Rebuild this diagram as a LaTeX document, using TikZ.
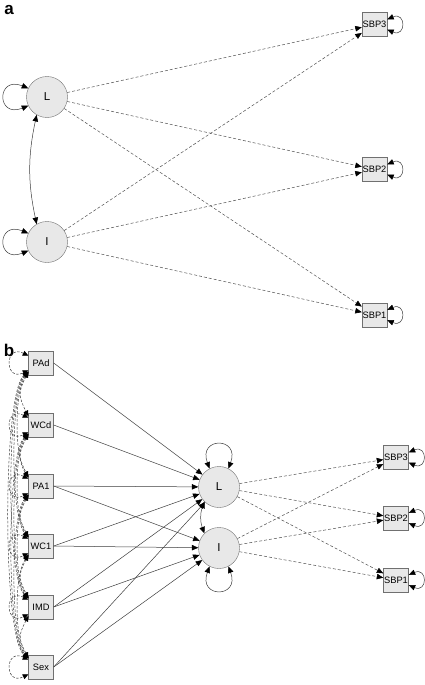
\documentclass[tikz,border=0pt]{standalone}
\usepackage{fontspec}
\setmainfont{Liberation Sans}
\usetikzlibrary{arrows.meta,calc}
\definecolor{boxgrey}{HTML}{E8E8E8}
\definecolor{edgegrey}{HTML}{707070}
\definecolor{linegrey}{HTML}{3C3C3C}
\definecolor{dashgrey}{HTML}{505050}

\begin{document}
\begin{tikzpicture}[x=1pt,y=1pt,
  obs/.style={draw=edgegrey,fill=boxgrey,minimum width=25pt,minimum height=24pt,inner sep=0pt,font=\fontsize{9.3}{10}\selectfont},
  lat/.style={circle,draw=edgegrey,fill=boxgrey,minimum size=41pt,inner sep=0pt,font=\fontsize{11.5}{12}\selectfont},
  panel/.style={font=\bfseries\fontsize{17}{17}\selectfont},
  headend/.style={-{Triangle[length=6.5pt,width=5.5pt,color=black]}},
  twohead/.style={{Triangle[length=6.5pt,width=5.5pt,color=black]}-{Triangle[length=6.5pt,width=5.5pt,color=black]}},
  reg/.style={draw=linegrey,line width=0.5pt},
  load/.style={draw=dashgrey,line width=0.5pt,dash pattern=on 3pt off 2pt},
  cov/.style={draw=linegrey,line width=0.5pt,dash pattern=on 2.5pt off 1.5pt,
    {Triangle[length=5.5pt,width=5pt,color=black]}-{Triangle[length=5.5pt,width=5pt,color=black]}}]
  \useasboundingbox (0,0) rectangle (425,-685);

  % Panel a
  \node[panel] (tagA) at (9,-10) {a};
  \node[lat] (La) at (47,-97) {L};
  \node[lat] (Ia) at (47,-242) {I};
  \node[obs] (S3a) at (374.5,-24.5) {SBP3};
  \node[obs] (S2a) at (374.5,-169.5) {SBP2};
  \node[obs] (S1a) at (374.5,-315) {SBP1};
  \foreach \f in {La,Ia}
    \draw[reg,twohead] (\f.155) .. controls +(-32,13) and +(-32,-13) .. (\f.205);
  \draw[reg,twohead] (La.240) to[bend right=12] (Ia.120);
  \foreach \f in {La,Ia}
    \foreach \s in {S3a,S2a,S1a}
      \draw[load,headend] (\f) -- (\s);

  % Panel b
  \node[panel] (tagB) at (9,-350) {b};
  \foreach \name/\y in {PAd/363,WCd/425,PA1/486,WC1/546,IMD/607,Sex/667}
    \node[obs] (\name) at (41,-\y) {\name};
  \node[lat] (Lb) at (219,-487) {L};
  \node[lat] (Ib) at (219,-548) {I};
  \node[obs] (S3b) at (396,-457.5) {SBP3};
  \node[obs] (S2b) at (396,-518) {SBP2};
  \node[obs] (S1b) at (396,-580) {SBP1};
  % covariances of the predictors
  \foreach \i/\a in {1/PAd,2/WCd,3/PA1,4/WC1,5/IMD,6/Sex}{
    \draw[cov] (\a.150) .. controls +(-24,12) and +(-24,-12) .. (\a.210);
    \foreach \j/\b in {1/PAd,2/WCd,3/PA1,4/WC1,5/IMD,6/Sex}{
      \ifnum\j>\i
        \pgfmathsetmacro\w{6+4*(\j-\i)}
        \draw[cov] (\a.215) .. controls +(-\w,-20) and +(-\w,20) .. (\b.145);
      \fi
    }
  }
  % regressions
  \foreach \src/\dst in {PAd/Lb,WCd/Lb,PA1/Lb,PA1/Ib,WC1/Lb,WC1/Ib,IMD/Lb,IMD/Ib,Sex/Lb,Sex/Ib}
    \draw[reg,headend] (\src.east) -- (\dst);
  \draw[reg,twohead] (Lb.117) .. controls +(-12,32) and +(12,32) .. (Lb.63);
  \draw[reg,twohead] (Ib.243) .. controls +(-12,-32) and +(12,-32) .. (Ib.297);
  \draw[reg,twohead] (Lb.225) to[bend right=20] (Ib.135);
  \foreach \f in {Lb,Ib}
    \foreach \s in {S3b,S2b,S1b}
      \draw[load,headend] (\f) -- (\s);

  % residuals of the outcomes
  \foreach \s in {S3a,S2a,S1a,S3b,S2b,S1b}
    \draw[reg,twohead] (\s.22) .. controls +(19,8) and +(19,-8) .. (\s.-22);
\end{tikzpicture}
\end{document}
